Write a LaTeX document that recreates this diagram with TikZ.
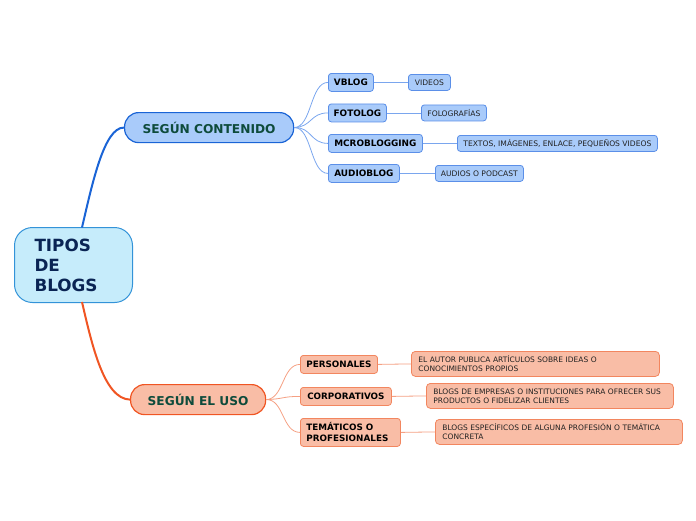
\documentclass[tikz,border=0pt]{standalone}
\usepackage{fontspec}
\setmainfont{DejaVu Sans}
\definecolor{rootfill}{HTML}{C6ECFB}
\definecolor{rootdraw}{HTML}{3393D8}
\definecolor{roottext}{HTML}{0A2454}
\definecolor{bfill}{HTML}{A9CBFA}
\definecolor{bdraw}{HTML}{1A64D6}
\definecolor{bsub}{HTML}{5B8FE8}
\definecolor{bline}{HTML}{7AA6EE}
\definecolor{ofill}{HTML}{F9BDA6}
\definecolor{odraw}{HTML}{F05523}
\definecolor{osub}{HTML}{F2865F}
\definecolor{oline}{HTML}{F5A083}
\definecolor{maintext}{HTML}{0E4B3B}
\definecolor{leaftext}{HTML}{222222}
\tikzset{
  box/.style={anchor=north west, inner sep=0pt, minimum height=#1},
  rootbox/.style={box=75pt, draw=rootdraw, fill=rootfill, line width=1pt, rounded corners=18pt,
    font=\fontsize{16.8}{20}\selectfont\bfseries, text=roottext, align=left},
  mainblue/.style={box=30pt, draw=bdraw, fill=bfill, line width=1.2pt, rounded corners=14pt,
    font=\fontsize{12.2}{14}\selectfont\bfseries, text=maintext},
  mainor/.style={box=30pt, draw=odraw, fill=ofill, line width=1.2pt, rounded corners=14pt,
    font=\fontsize{12.2}{14}\selectfont\bfseries, text=maintext},
  subblue/.style={box=18pt, draw=bsub, fill=bfill, line width=0.8pt, rounded corners=3pt,
    font=\fontsize{8.9}{10}\selectfont\bfseries, text=black},
  subor/.style={draw=osub, fill=ofill, line width=0.8pt, rounded corners=3pt,
    anchor=north west, inner sep=0pt, align=left,
    font=\fontsize{8.8}{11}\selectfont\bfseries, text=black},
  leafblue/.style={box=16pt, draw=bsub, fill=bfill, line width=0.8pt, rounded corners=3pt,
    font=\fontsize{7.6}{9}\selectfont, text=leaftext},
  leafor/.style={box=25pt, draw=osub, fill=ofill, line width=0.8pt, rounded corners=4pt,
    font=\fontsize{7.5}{9}\selectfont, text=leaftext, align=left},
  bthick/.style={draw=bdraw, line width=2pt},
  othick/.style={draw=odraw, line width=2pt},
  bthin/.style={draw=bline, line width=0.8pt},
  othin/.style={draw=oline, line width=0.8pt},
}
\begin{document}
\begin{tikzpicture}[x=1pt,y=-1pt]
\useasboundingbox (0,0) rectangle (696,520);

% root
\node[rootbox, minimum width=118pt, text width=78pt, inner xsep=20pt] (root) at (14,227) {TIPOS\\DE\\BLOGS};

% main branches
\node[mainblue, minimum width=169pt] (cont) at (124,112) {SEGÚN CONTENIDO};
\node[mainor, minimum width=135pt] (uso) at (130,384) {SEGÚN EL USO};

\coordinate (rtop) at (82,227.5);
\coordinate (rbot) at (82,302);
\draw[bthick] (rtop) .. controls (92,185) and (104,127) .. (cont.west);
\draw[othick] (rbot) .. controls (92,345) and (104,399) .. (uso.west);

% blue subs
\node[subblue, minimum width=45pt] (vblog) at (328,73) {VBLOG};
\node[subblue, minimum width=58pt] (foto) at (328,103.5) {FOTOLOG};
\node[subblue, minimum width=94pt] (micro) at (328,134) {MCROBLOGGING};
\node[subblue, minimum width=71pt] (audio) at (328,164) {AUDIOBLOG};

\node[leafblue, minimum width=42pt] (videos) at (408,74) {VIDEOS};
\node[leafblue, minimum width=65pt] (fotos) at (421,104.5) {FOLOGRAFÍAS};
\node[leafblue, minimum width=200pt] (textos) at (457,135) {TEXTOS, IMÁGENES, ENLACE, PEQUEÑOS VIDEOS};
\node[leafblue, minimum width=88pt] (audios) at (435,165) {AUDIOS O PODCAST};

\foreach \s in {vblog,foto,micro,audio}
  \draw[bthin] (cont.east) .. controls (312,127) and (310,0|-\s.west) .. (\s.west);
\draw[bthin] (vblog.east) -- (videos.west);
\draw[bthin] (foto.east) -- (fotos.west);
\draw[bthin] (micro.east) -- (textos.west);
\draw[bthin] (audio.east) -- (audios.west);

% orange subs
\node[subor, minimum width=76pt, minimum height=18pt, inner xsep=6pt] (pers) at (300,355) {PERSONALES};
\node[subor, minimum width=91pt, minimum height=18pt, inner xsep=6pt] (corp) at (300,387) {CORPORATIVOS};
\node[subor, minimum width=100pt, minimum height=28pt, inner xsep=6pt, text width=88pt] (tema) at (300,418) {TEMÁTICOS O\\PROFESIONALES};

\node[leafor, minimum width=248pt, text width=234pt, inner xsep=7pt] (l1) at (411,351) {EL AUTOR PUBLICA ARTÍCULOS SOBRE IDEAS O\\CONOCIMIENTOS PROPIOS};
\node[leafor, minimum width=247pt, text width=233pt, inner xsep=6pt] (l2) at (426,383) {BLOGS DE EMPRESAS O INSTITUCIONES PARA OFRECER SUS\\PRODUCTOS O FIDELIZAR CLIENTES};
\node[leafor, minimum width=247pt, text width=233pt, inner xsep=6pt] (l3) at (435,419) {BLOGS ESPECÍFICOS DE ALGUNA PROFESIÓN O TEMÁTICA\\CONCRETA};

\foreach \s in {pers,corp,tema}
  \draw[othin] (uso.east) .. controls (284,399) and (282,0|-\s.west) .. (\s.west);
\draw[othin] (pers.east) -- (l1.west);
\draw[othin] (corp.east) -- (l2.west);
\draw[othin] (tema.east) -- (l3.west);
\end{tikzpicture}
\end{document}
